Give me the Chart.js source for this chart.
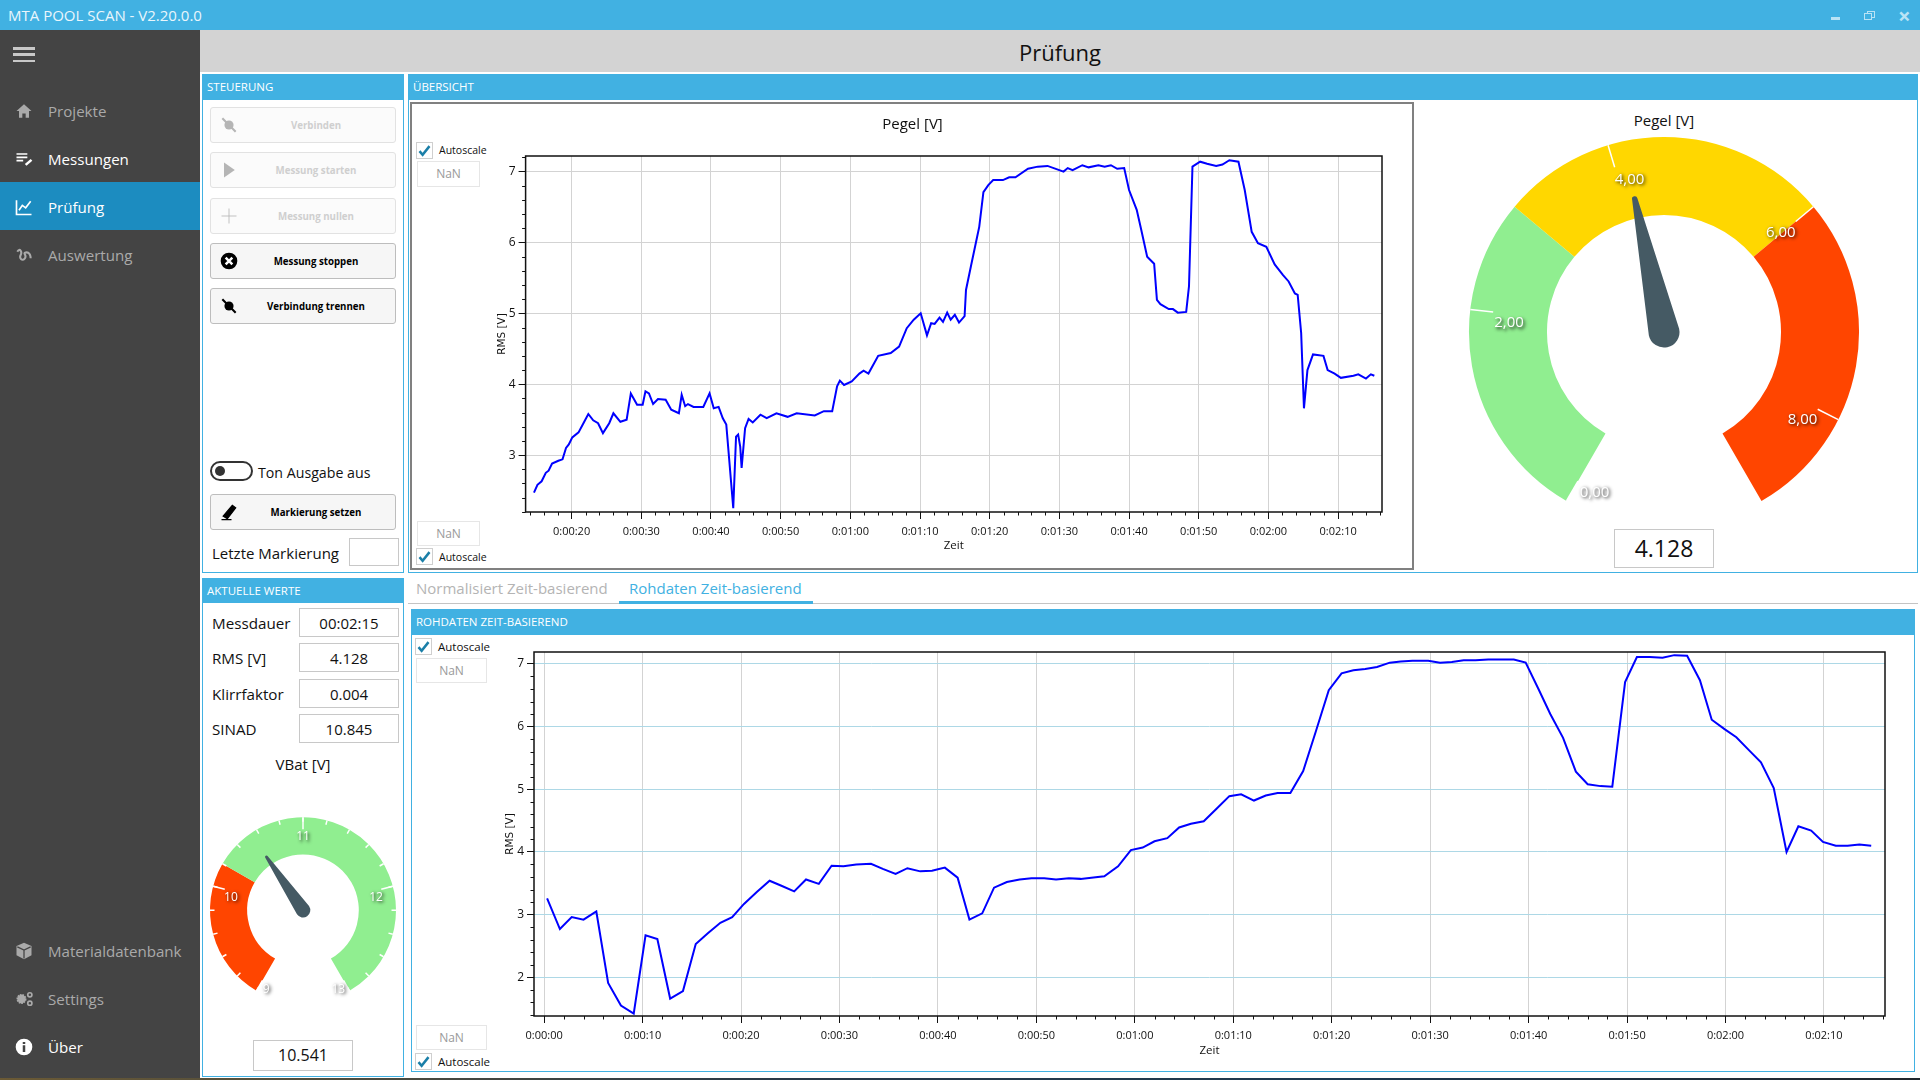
<!DOCTYPE html>
<html lang="de">
<head>
<meta charset="utf-8">
<title>MTA POOL SCAN</title>
<script src="https://cdn.jsdelivr.net/npm/chart.js@4"></script>
<style>
html, body { margin:0; padding:0; width:1920px; height:1080px; overflow:hidden; background:#fff; font-family:"Open Sans",sans-serif; color:#111; }
#app div, #app canvas, #app svg { position:absolute; box-sizing:border-box; }
.head { background:#41b1e2; color:#fff; font-size:11.5px; line-height:26px; padding-left:5px; }
.frame { border:1.5px solid #41b1e2; }
.btn { left:210px; width:186px; height:36px; background:#f6f6f6; border:1px solid #bdbdbd; border-radius:3px; font-size:9.7px; font-weight:700; line-height:36px; text-align:center; padding-left:26px; color:#000; }
.btn.off { background:#fbfbfb; border-color:#e2e2e2; color:#cfcfcf; }
.val { border:1px solid #c8c8c8; background:#fff; text-align:center; font-size:15px; line-height:29px; }
.nan { border:1px solid #e6e6e6; color:#999; text-align:center; font-size:12px; line-height:24px; }
.lbl { font-size:15.2px; white-space:nowrap; line-height:20px; }
.nav { left:48px; font-size:15.1px; line-height:22px; white-space:nowrap; }
.chk { width:17px; height:17px; border:1px solid #cfcfcf; background:#fff; }
</style>
</head>
<body>
<div id="app"></div>
<script>
// Pegel [V], oben: Zeit in Sekunden und RMS
const pegelZeit = [14.6,15.1,15.7,16.3,16.7,17.2,18.1,18.7,19.2,19.6,20.1,21.0,21.7,22.4,23.1,23.8,24.5,25.4,26.0,27.0,27.9,28.5,29.4,30.2,30.6,31.1,31.7,32.4,33.5,34.3,35.4,35.8,36.3,36.7,37.5,38.9,39.8,40.4,41.1,41.7,42.2,42.7,43.2,43.6,43.9,44.2,44.4,44.9,45.4,46.0,47.1,48.0,49.4,51.0,52.3,54.9,56.2,57.4,58.1,58.5,59.1,60.2,61.3,61.9,62.6,64.0,65.8,67.0,68.1,69.1,70.1,71.0,71.6,72.1,72.8,73.3,73.9,74.4,75.0,75.6,76.4,76.6,77.3,78.2,78.5,79.1,79.8,80.5,81.9,82.8,83.7,85.5,86.9,88.3,90.6,91.2,91.9,93.3,94.2,95.6,96.5,97.4,98.3,99.3,100.0,101.1,101.7,102.6,103.6,104.0,104.5,105.7,106.3,107.0,108.2,108.6,109.1,110.2,111.2,112.5,113.4,114.4,115.7,116.6,117.6,118.5,119.7,120.9,122.1,122.9,123.8,124.2,124.7,125.1,125.6,126.4,127.9,128.5,129.5,130.4,132.2,132.9,134.0,134.7,135.2];
const pegelWerte = [2.47,2.58,2.63,2.75,2.78,2.88,2.92,2.94,3.10,3.15,3.25,3.32,3.45,3.58,3.49,3.45,3.31,3.45,3.59,3.47,3.50,3.87,3.71,3.71,3.90,3.87,3.72,3.79,3.78,3.64,3.59,3.85,3.69,3.72,3.68,3.68,3.87,3.66,3.68,3.52,3.43,2.84,2.25,3.26,3.29,3.12,2.82,3.38,3.51,3.46,3.57,3.52,3.59,3.54,3.59,3.56,3.62,3.62,3.97,4.05,3.99,4.04,4.15,4.19,4.15,4.40,4.44,4.53,4.79,4.91,5.00,4.69,4.86,4.85,4.94,4.88,5.01,4.91,4.98,4.87,4.96,5.33,5.66,6.08,6.22,6.71,6.81,6.88,6.88,6.92,6.92,7.04,7.07,7.08,7.00,7.05,7.02,7.09,7.06,7.09,7.07,7.09,7.04,7.05,6.74,6.46,6.20,5.80,5.70,5.19,5.13,5.06,5.06,5.01,5.02,5.38,7.07,7.14,7.11,7.08,7.10,7.16,7.14,6.74,6.15,5.99,5.94,5.69,5.54,5.45,5.28,5.26,4.72,3.66,4.20,4.42,4.40,4.20,4.15,4.09,4.12,4.14,4.08,4.14,4.12];

// Rohdaten Zeit-basierend, unten
const rohZeit = [0.3,1.6,2.8,4.0,5.3,6.5,7.8,9.1,10.3,11.5,12.8,14.1,15.4,16.6,17.9,19.1,20.3,21.6,22.9,24.1,25.4,26.6,27.9,29.2,30.4,31.7,33.2,34.4,35.7,36.9,38.2,39.4,40.7,42.0,43.2,44.5,45.7,47.0,48.3,49.5,50.8,52.0,53.3,54.5,55.8,56.9,58.3,59.6,60.8,62.0,63.3,64.5,65.7,67.0,68.3,69.6,70.8,72.1,73.3,74.5,75.8,77.1,78.4,79.7,81.0,82.2,83.4,84.6,85.9,87.0,88.2,89.8,91.0,92.2,93.4,94.6,95.9,97.2,98.5,99.7,101.0,102.2,103.5,104.8,106.0,107.3,108.5,109.8,111.0,112.3,113.6,114.8,116.1,117.4,118.6,119.9,121.1,122.4,123.6,124.9,126.2,127.4,128.7,129.9,131.2,132.4,133.6,134.8];
const rohWerte = [3.26,2.77,2.96,2.92,3.05,1.91,1.55,1.42,2.67,2.61,1.66,1.78,2.53,2.70,2.87,2.96,3.17,3.36,3.54,3.46,3.37,3.56,3.49,3.78,3.77,3.80,3.81,3.73,3.65,3.74,3.69,3.70,3.75,3.59,2.92,3.02,3.43,3.52,3.56,3.58,3.58,3.56,3.58,3.57,3.59,3.61,3.77,4.03,4.07,4.17,4.22,4.39,4.45,4.49,4.69,4.89,4.92,4.82,4.90,4.94,4.94,5.29,5.93,6.58,6.85,6.90,6.92,6.95,7.02,7.04,7.05,7.05,7.02,7.03,7.06,7.06,7.07,7.07,7.07,7.02,6.60,6.20,5.82,5.28,5.08,5.05,5.04,6.71,7.11,7.11,7.10,7.14,7.13,6.74,6.11,5.96,5.83,5.62,5.43,5.02,4.00,4.41,4.34,4.16,4.10,4.10,4.12,4.10];

// Gauges
const pegelBaender = [3, 3, 3];
const pegelFarben = ['#90ee90', '#ffd700', '#ff4500'];
const pegelWert = 4.128;
const pegelTicks = [0, 2, 4, 6, 8];
const pegelTickText = ['0,00', '2,00', '4,00', '6,00', '8,00'];

const vbatBaender = [1.2, 2.8];
const vbatFarben = ['#ff4500', '#90ee90'];
const vbatWert = 10.541;
const vbatTicks = [9, 10, 11, 12, 13];
const vbatTickText = ['9', '10', '11', '12', '13'];

const app = document.getElementById('app');

function add(cls, x, y, w, h, text, extra) {
    const d = document.createElement('div');
    d.className = cls;
    d.style.cssText = `left:${x}px;top:${y}px;` + (w ? `width:${w}px;` : '') + (h ? `height:${h}px;` : '') + (extra || '');
    if (text) d.textContent = text;
    app.appendChild(d);
    return d;
}

function icon(x, y, size, body, color) {
    app.insertAdjacentHTML('beforeend', `<svg style="left:${x}px;top:${y}px" width="${size}" height="${size}" viewBox="0 0 24 24" fill="${color}" stroke="${color}">${body}</svg>`);
}

function navItem(label, y, color, body) {
    add('nav', 48, y - 11, 0, 0, label, 'color:' + color);
    icon(14, y - 10, 20, body, color);
}

function check(x, y) {
    add('chk', x, y);
    icon(x + 1, y + 1, 15, '<path d="M4 13l5 6L20 5" fill="none" stroke-width="4"/>', '#1b7fa8');
}

function button(label, y, off, body) {
    add('btn' + (off ? ' off' : ''), 210, y, 0, 0, label);
    icon(219, y + 8, 20, body, off ? '#b5b5b5' : '#000');
}

// Fenster und Navigation
add('', 0, 0, 1920, 30, '', 'background:#41b1e2');
add('', 8, 0, 0, 30, 'MTA POOL SCAN - V2.20.0.0', 'color:#e9f6fc;font-size:15px;line-height:30px;white-space:nowrap');
add('', 1831, 17, 9, 3, '', 'background:#b9e3f5');
add('', 1867, 11, 8, 7, '', 'border:1px solid #b9e3f5');
add('', 1864, 13, 8, 7, '', 'border:1px solid #b9e3f5;background:#41b1e2');
add('', 1898, 4, 0, 22, '×', 'color:#b9e3f5;font-size:22px;font-weight:700;line-height:22px');
add('', 0, 30, 200, 1048, '', 'background:#444');
add('', 0, 182, 200, 48, '', 'background:#1c8cc0');
add('', 13, 47, 22, 2.5, '', 'background:#c8c8c8');
add('', 13, 53, 22, 2.5, '', 'background:#c8c8c8');
add('', 13, 59.5, 22, 2.5, '', 'background:#c8c8c8');
navItem('Projekte', 110.5, '#aaa', '<path d="M12 4L3 12h3v8h4v-5h4v5h4v-8h3z" stroke="none"/>');
navItem('Messungen', 159, '#fff', '<path d="M3 6h13M3 10h13M3 14h8" fill="none" stroke-width="2"/><path d="M14 19l7-6" fill="none" stroke-width="3"/>');
navItem('Prüfung', 206.5, '#fff', '<path d="M3 4v17h18M6 16l4-6 4 3 6-8" fill="none" stroke-width="2"/>');
navItem('Auswertung', 254.5, '#aaa', '<path d="M4 8c3-5 6 0 4 4s2 8 5 4-3-6 1-7 6 3 6 7" fill="none" stroke-width="2.5"/>');
navItem('Materialdatenbank', 951, '#aaa', '<path d="M12 2l9 4v11l-9 5-9-5V6z" stroke="none"/><path d="M4 7l8 4 8-4M12 11v10" fill="none" stroke="#444" stroke-width="1.5"/>');
navItem('Settings', 999, '#aaa', '<circle cx="9" cy="12" r="5" stroke-width="2" stroke-dasharray="2 1"/><circle cx="19" cy="7" r="2.5" fill="none" stroke-width="2"/><circle cx="19" cy="17" r="2.5" fill="none" stroke-width="2"/>');
navItem('Über', 1047, '#fff', '<circle cx="12" cy="12" r="10" stroke="none"/><path d="M12 10v8M12 6v2.5" fill="none" stroke="#444" stroke-width="3"/>');
add('', 0, 1078, 1920, 2, '', 'background:linear-gradient(90deg,#6b5a35,#2a3a48 40%,#1d3850 70%,#20262c)');

// Kopfzeile
add('', 200, 30, 1720, 42, '', 'background:#d3d3d3');
add('', 200, 31, 1720, 42, 'Prüfung', 'font-size:22px;line-height:42px;text-align:center');

// Steuerung
add('frame', 202, 74, 202, 499);
add('head', 202, 74, 202, 26, 'STEUERUNG');
const stecker = '<path d="M4 4l5 5M20 20l-5-5" fill="none" stroke-width="2.5"/><circle cx="12" cy="12" r="5.5" stroke="none"/>';
button('Verbinden', 107, true, stecker);
button('Messung starten', 152, true, '<path d="M6 3l13 9-13 9z" stroke="none"/>');
button('Messung nullen', 198, true, '<path d="M12 3v18M3 12h18" fill="none" stroke-width="1"/>');
button('Messung stoppen', 243, false, '<circle cx="12" cy="12" r="10" stroke="none"/><path d="M8 8l8 8M16 8l-8 8" fill="none" stroke="#fff" stroke-width="3"/>');
button('Verbindung trennen', 288, false, stecker);
add('', 210, 461, 43, 20, '', 'border:2px solid #333;border-radius:10px');
add('', 215, 466, 10, 10, '', 'background:#333;border-radius:5px');
add('lbl', 258, 462.5, 0, 0, 'Ton Ausgabe aus', 'font-size:14.2px');
button('Markierung setzen', 494, false, '<path d="M5 17L16 4l4 3-10 13zM3 21h12" stroke-width="1.5"/>');
add('lbl', 212, 543, 0, 0, 'Letzte Markierung', 'font-size:15px');
add('val', 349, 538, 50, 28);

// Aktuelle Werte
add('frame', 202, 578, 202, 499);
add('head', 202, 578, 202, 25, 'AKTUELLE WERTE', 'line-height:25px');
[['Messdauer', '00:02:15', 608], ['RMS [V]', '4.128', 643], ['Klirrfaktor', '0.004', 679], ['SINAD', '10.845', 714]].forEach(r => {
    add('lbl', 212, r[2] + 5, 0, 0, r[0]);
    add('val', 299, r[2], 100, 29, r[1]);
});
add('lbl', 203, 754, 200, 0, 'VBat [V]', 'text-align:center;font-size:15px');
add('val', 253, 1040, 100, 31, '10.541', 'font-size:16px;line-height:29px');

// Übersicht
add('frame', 408, 74, 1510, 499);
add('head', 408, 74, 1510, 26, 'ÜBERSICHT');
add('', 410, 102, 1004, 468, '', 'border:2.5px solid #808080');
check(416, 142);
add('', 439, 143, 0, 0, 'Autoscale', 'font-size:10.5px;line-height:14px');
add('nan', 417, 161, 63, 26, 'NaN');
add('nan', 417, 521, 63, 25, 'NaN');
check(416, 548);
add('', 439, 550, 0, 0, 'Autoscale', 'font-size:10.5px;line-height:14px');
add('', 1564, 110, 200, 20, 'Pegel [V]', 'text-align:center;font-size:15px;line-height:20px');
add('val', 1614, 529, 100, 39, '4.128', 'font-size:23px;line-height:37px');

// Tabs
add('', 416, 577, 0, 22, 'Normalisiert Zeit-basierend', 'color:#b4b4b4;font-size:15px;line-height:22px;white-space:nowrap');
add('', 629, 577, 0, 22, 'Rohdaten Zeit-basierend', 'color:#41b1e2;font-size:15px;line-height:22px;white-space:nowrap');
add('', 408, 603, 1510, 1, '', 'background:#c4c4c4');
add('', 619, 601, 194, 3, '', 'background:#41b1e2');

// Rohdaten
add('frame', 411, 609, 1504, 463);
add('head', 411, 609, 1504, 26, 'ROHDATEN ZEIT-BASIEREND');
check(415, 638);
add('', 438, 639, 0, 0, 'Autoscale', 'font-size:11.5px;line-height:16px');
add('nan', 416, 658, 71, 25, 'NaN');
add('nan', 416, 1025, 71, 25, 'NaN');
check(415, 1053);
add('', 438, 1054, 0, 0, 'Autoscale', 'font-size:11.5px;line-height:16px');

function makeCanvas(x, y, w, h) {
    const c = document.createElement('canvas');
    c.width = w; c.height = h;
    c.style.cssText = `left:${x}px;top:${y}px;width:${w}px;height:${h}px`;
    app.appendChild(c);
    return c;
}

function zeitText(v) {
    const s = Math.round(v);
    const mm = String(Math.floor(s / 60)).padStart(2, '0');
    const ss = String(s % 60).padStart(2, '0');
    return `0:${mm}:${ss}`;
}

// kleine Ticks und Rahmen, die Chart.js selbst nicht zeichnet
const rahmenPlugin = {
    id: 'rahmen',
    afterDatasetsDraw(chart, args, opts) {
        const a = chart.chartArea, ctx = chart.ctx;
        ctx.save();
        ctx.strokeStyle = '#111';
        ctx.lineWidth = 1.5;
        ctx.strokeRect(a.left, a.top, a.right - a.left, a.bottom - a.top);
        ctx.lineWidth = 1;
        ctx.beginPath();
        for (let v = opts.xFrom; v <= chart.scales.x.max; v += 2) {
            if (v % 10 === 0) continue;
            const p = Math.round(chart.scales.x.getPixelForValue(v)) + 0.5;
            ctx.moveTo(p, a.bottom); ctx.lineTo(p, a.bottom + 3.5);
        }
        for (let i = opts.yFrom; i <= chart.scales.y.max * 5; i++) {
            if (i % 5 === 0) continue;
            const p = Math.round(chart.scales.y.getPixelForValue(i / 5)) + 0.5;
            ctx.moveTo(a.left, p); ctx.lineTo(a.left - 3.5, p);
        }
        ctx.stroke();
        ctx.restore();
    }
};

function lineChart(canvas, zeit, werte, o) {
    return new Chart(canvas, {
        type: 'line',
        data: { datasets: [{ data: zeit.map((t, i) => ({ x: t, y: werte[i] })), borderColor: '#0000ff', borderWidth: o.lineWidth, pointRadius: 0, tension: 0, fill: false }] },
        options: {
            responsive: false, animation: false,
            layout: { padding: { top: o.padTop, right: 4, left: 0, bottom: 0 } },
            plugins: {
                legend: { display: false }, tooltip: { enabled: false },
                title: o.title ? { display: true, text: o.title, color: '#111', font: { family: 'Open Sans', size: 15, weight: 'normal', lineHeight: 1.2 }, padding: { top: 8, bottom: 22 } } : { display: false },
                rahmen: { xFrom: o.xFrom, yFrom: o.yFrom }
            },
            scales: {
                x: {
                    type: 'linear', min: o.xMin, max: o.xMax,
                    afterFit: s => { s.height = o.xHeight; },
                    grid: { color: '#d3d3d3', lineWidth: 1, tickColor: '#111', tickLength: 7, drawTicks: true },
                    border: { display: false },
                    ticks: { stepSize: 10, includeBounds: false, autoSkip: false, maxRotation: 0, padding: 6, color: '#111', font: { family: 'Open Sans', size: 11 }, callback: zeitText },
                    title: { display: true, text: 'Zeit', color: '#111', font: { family: 'Open Sans', size: 11.5 }, padding: { top: 0, bottom: o.zeitPad } }
                },
                y: {
                    type: 'linear', min: o.yMin, max: o.yMax,
                    afterFit: s => { s.width = o.yWidth; },
                    grid: { color: o.yGrid, lineWidth: 1, tickColor: '#111', tickLength: 7 },
                    border: { display: false },
                    ticks: { stepSize: 1, includeBounds: false, padding: 3, color: '#111', font: { family: 'Open Sans', size: 12 } },
                    title: { display: true, text: 'RMS [V]', color: '#111', font: { family: 'DejaVu Sans', size: 10.5 }, padding: { top: o.rmsPad, bottom: 0 } }
                }
            }
        },
        plugins: [rahmenPlugin]
    });
}

// Gauge: 300 Grad Bogen, Zeiger und Beschriftung hängen am Wertebereich
const gaugePlugin = {
    id: 'gauge',
    afterDatasetsDraw(chart, args, g) {
        const arc = chart.getDatasetMeta(0).data[0], ctx = chart.ctx;
        const cx = arc.x, cy = arc.y, R = arc.outerRadius;
        const winkel = v => (-150 + (v - g.min) / (g.max - g.min) * 300) * Math.PI / 180;
        const strich = (v, len, w) => {
            const th = winkel(v);
            ctx.lineWidth = w;
            ctx.beginPath();
            ctx.moveTo(cx + R * Math.sin(th), cy - R * Math.cos(th));
            ctx.lineTo(cx + (R - len) * Math.sin(th), cy - (R - len) * Math.cos(th));
            ctx.stroke();
        };
        ctx.save();
        ctx.strokeStyle = '#fff';
        if (g.minorLen) {
            for (let i = 0; i <= (g.max - g.min) * 5; i++) strich(g.min + i / 5, g.minorLen, 1.5);
        }
        g.ticks.forEach(v => strich(v, g.majorLen, 1.5));

        ctx.font = g.font;
        ctx.textAlign = 'center';
        ctx.textBaseline = 'middle';
        ctx.fillStyle = '#fff';
        ctx.shadowColor = 'rgba(0,0,0,0.95)';
        ctx.shadowBlur = 3.5;
        ctx.shadowOffsetX = 1.5;
        ctx.shadowOffsetY = 1.5;
        g.ticks.forEach((v, i) => {
            const th = winkel(v);
            ctx.fillText(g.labels[i], cx + g.labelR * Math.sin(th) + g.nudge[i][0], cy - g.labelR * Math.cos(th) + g.nudge[i][1]);
        });
        ctx.restore();

        ctx.save();
        ctx.translate(cx, cy);
        ctx.rotate(winkel(g.value));
        ctx.fillStyle = '#455a64';
        ctx.beginPath();
        ctx.arc(0, 0, g.hub, 0, Math.PI);
        ctx.lineTo(-g.tip, -g.needle + g.tip);
        ctx.arc(0, -g.needle + g.tip, g.tip, Math.PI, 2 * Math.PI);
        ctx.closePath();
        ctx.fill();
        ctx.restore();
    }
};

function gaugeChart(canvas, baender, farben, radius, g) {
    return new Chart(canvas, {
        type: 'doughnut',
        data: { datasets: [{ data: baender, backgroundColor: farben, borderWidth: 0 }] },
        options: {
            responsive: false, animation: false,
            rotation: -150, circumference: 300, radius: radius, cutout: '60%',
            plugins: { legend: { display: false }, tooltip: { enabled: false }, gauge: g }
        },
        plugins: [gaugePlugin]
    });
}

lineChart(makeCanvas(443, 108, 943, 454), pegelZeit, pegelWerte, {
    title: 'Pegel [V]', lineWidth: 2, padTop: 0, xMin: 13.4, xMax: 136.3, yMin: 2.197, yMax: 7.22,
    xFrom: 14, yFrom: 11, xHeight: 50, yWidth: 82.6, zeitPad: 9, rmsPad: 53, yGrid: '#d3d3d3'
});
lineChart(makeCanvas(500, 638, 1389, 426), rohZeit, rohWerte, {
    lineWidth: 2, padTop: 14, xMin: -1.03, xMax: 136.2, yMin: 1.382, yMax: 7.19,
    xFrom: 0, yFrom: 7, xHeight: 48, yWidth: 34, zeitPad: 6, rmsPad: 4, yGrid: '#add8e6'
});
gaugeChart(makeCanvas(1464, 119, 400, 400), pegelBaender, pegelFarben, 195, {
    min: 0, max: 9, value: pegelWert, ticks: pegelTicks, labels: pegelTickText,
    nudge: [[8, 26], [-1, 9], [10, -4], [-2, 0], [0, 18]], labelR: 155, majorLen: 23, minorLen: 0,
    font: '15px "Open Sans"', needle: 139, hub: 15.5, tip: 2.7
});
gaugeChart(makeCanvas(203, 804, 200, 200), vbatBaender, vbatFarben, 93, {
    min: 9, max: 13, value: vbatWert, ticks: vbatTicks, labels: vbatTickText,
    nudge: [[0, 15.6], [-1, 6], [0, 0], [2, 6], [-1.5, 15.6]], labelR: 73.6, majorLen: 12, minorLen: 4.5,
    font: '12px "Open Sans"', needle: 66, hub: 7.3, tip: 1.5
});
</script>
</body>
</html>
